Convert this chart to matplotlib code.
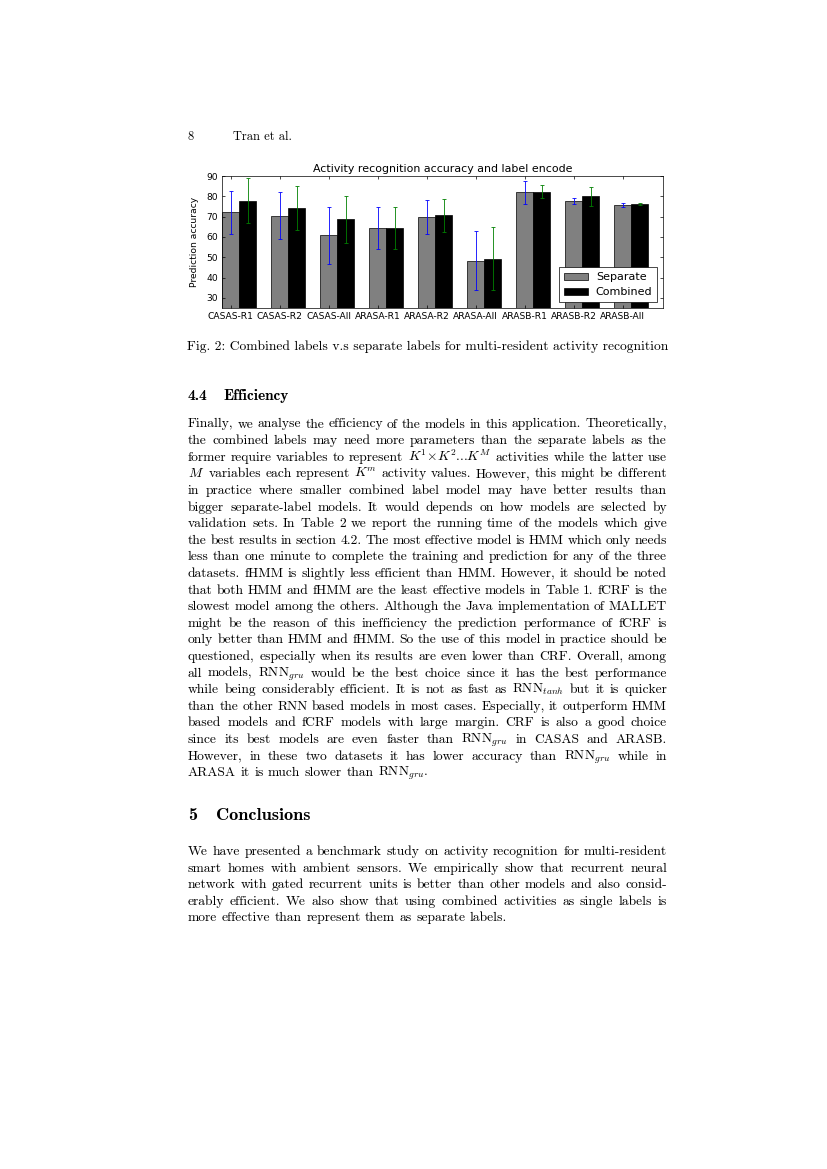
import matplotlib
matplotlib.use('Agg')
import matplotlib.pyplot as plt
import numpy as np

# datos de la grafica
labels = ['CASAS-R1', 'CASAS-R2', 'CASAS-All', 'ARASA-R1', 'ARASA-R2',
          'ARASA-All', 'ARASB-R1', 'ARASB-R2', 'ARASB-All']
separate = [72.1, 70.5, 60.8, 64.3, 69.8, 48.2, 82.0, 77.7, 75.7]
separate_err = [10.5, 11.5, 14.0, 10.3, 8.2, 14.5, 5.6, 1.4, 1.0]
combined = [77.9, 74.4, 68.7, 64.3, 70.7, 49.2, 82.3, 80.0, 76.1]
combined_err = [11.1, 10.9, 11.6, 10.3, 8.2, 15.5, 3.2, 4.8, 0.4]

# texto de la pagina
body = [
    "Finally, we analyse the efficiency of the models in this application. Theoretically,",
    "the combined labels may need more parameters than the separate labels as the",
    r"former require variables to represent $K^1{\times}K^2$...$K^M$ activities while the latter use",
    r"$M$ variables each represent $K^m$ activity values. However, this might be different",
    "in practice where smaller combined label model may have better results than",
    "bigger separate-label models. It would depends on how models are selected by",
    "validation sets. In Table 2 we report the running time of the models which give",
    "the best results in section 4.2. The most effective model is HMM which only needs",
    "less than one minute to complete the training and prediction for any of the three",
    "datasets. fHMM is slightly less efficient than HMM. However, it should be noted",
    "that both HMM and fHMM are the least effective models in Table 1. fCRF is the",
    "slowest model among the others. Although the Java implementation of MALLET",
    "might be the reason of this inefficiency the prediction performance of fCRF is",
    "only better than HMM and fHMM. So the use of this model in practice should be",
    "questioned, especially when its results are even lower than CRF. Overall, among",
    r"all models, RNN$_{gru}$ would be the best choice since it has the best performance",
    r"while being considerably efficient. It is not as fast as RNN$_{tanh}$ but it is quicker",
    "than the other RNN based models in most cases. Especially, it outperform HMM",
    "based models and fCRF models with large margin. CRF is also a good choice",
    r"since its best models are even faster than RNN$_{gru}$ in CASAS and ARASB.",
    r"However, in these two datasets it has lower accuracy than RNN$_{gru}$ while in",
    r"ARASA it is much slower than RNN$_{gru}$.",
]
conclusions = [
    "We have presented a benchmark study on activity recognition for multi-resident",
    "smart homes with ambient sensors. We empirically show that recurrent neural",
    "network with gated recurrent units is better than other models and also consid-",
    "erably efficient. We also show that using combined activities as single labels is",
    "more effective than represent them as separate labels.",
]
caption = "Fig. 2: Combined labels v.s separate labels for multi-resident activity recognition"

plt.rcParams['font.family'] = 'DejaVu Sans'
plt.rcParams['mathtext.fontset'] = 'cm'

W, H = 827, 1169
fig = plt.figure(figsize=(8.27, 11.69), dpi=100)
fig.patch.set_facecolor('white')
renderer = fig.canvas.get_renderer()

tam = 9.75  # tamano del texto


def px(x, y):
    return x / W, 1 - y / H


def linea(s, x0, x1, y, size=tam, family='cmr10', justify=True):
    words = s.split(' ')
    texts = [fig.text(0, 0, w, fontsize=size, family=family, va='baseline', ha='left') for w in words]
    widths = [t.get_window_extent(renderer).width for t in texts]
    if justify and len(words) > 1:
        gap = (x1 - x0 - sum(widths)) / (len(words) - 1)
    else:
        gap = size * 100 / 72.0 * 0.333
    x = x0
    for t, w in zip(texts, widths):
        t.set_position(px(x, y))
        x += w + gap


left, right = 188, 667
lead = 16.6

# encabezado
fig.text(*px(188, 140), '8', fontsize=9, family='cmr10', va='baseline')
fig.text(*px(233, 140), 'Tran et al.', fontsize=9, family='cmr10', va='baseline')

# grafica
ax = fig.add_axes([222 / W, 1 - 308 / H, 441 / W, 132 / H])
ind = np.arange(len(labels))
width = 0.35
ax.bar(ind, separate, width, align='edge', color='0.5', edgecolor='k', linewidth=0.5,
       yerr=separate_err, error_kw=dict(ecolor='b', elinewidth=0.6, capsize=1.5, capthick=0.6),
       label='Separate')
ax.bar(ind + width, combined, width, align='edge', color='k', edgecolor='k', linewidth=0.5,
       yerr=combined_err, error_kw=dict(ecolor='g', elinewidth=0.6, capsize=1.5, capthick=0.6),
       label='Combined')
ax.set_xlim(0, 9)
ax.set_ylim(25, 90)
ax.set_yticks(np.arange(30, 91, 10))
ax.set_xticks(ind + width / 2)
ax.set_xticklabels(labels)
ax.tick_params(direction='in', top=True, right=True, length=2.5, width=0.5, labelsize=6.6, pad=3)
for s in ax.spines.values():
    s.set_linewidth(0.5)
ax.set_title('Activity recognition accuracy and label encode', fontsize=7.9, pad=3)
ax.set_ylabel('Prediction accuracy', fontsize=6.6, labelpad=5)
leg = ax.legend(loc='lower right', fontsize=8, fancybox=False, edgecolor='k', framealpha=1,
                borderaxespad=0.5, labelspacing=0.45, borderpad=0.45, handletextpad=0.7,
                handlelength=2.2)
leg.get_frame().set_linewidth(0.5)

# pie de figura
fig.text(*px((left + right) / 2, 350), caption, fontsize=tam, family='cmr10',
         va='baseline', ha='center')

# seccion 4.4
fig.text(*px(188, 399.5), '4.4', fontsize=11, family='cmb10', va='baseline')
fig.text(*px(223, 399.5), 'Efficiency', fontsize=11, family='cmb10', va='baseline')

y = 427.5
for i, s in enumerate(body):
    linea(s, left, right, y, justify=(i < len(body) - 1))
    y += lead

# seccion 5
fig.text(*px(188, 820.5), '5', fontsize=13.2, family='cmb10', va='baseline')
fig.text(*px(216, 820.5), 'Conclusions', fontsize=13.2, family='cmb10', va='baseline')

y = 855
for i, s in enumerate(conclusions):
    linea(s, left, right, y, justify=(i < len(conclusions) - 1))
    y += lead

fig.savefig('out.png', dpi=100, facecolor='white')
